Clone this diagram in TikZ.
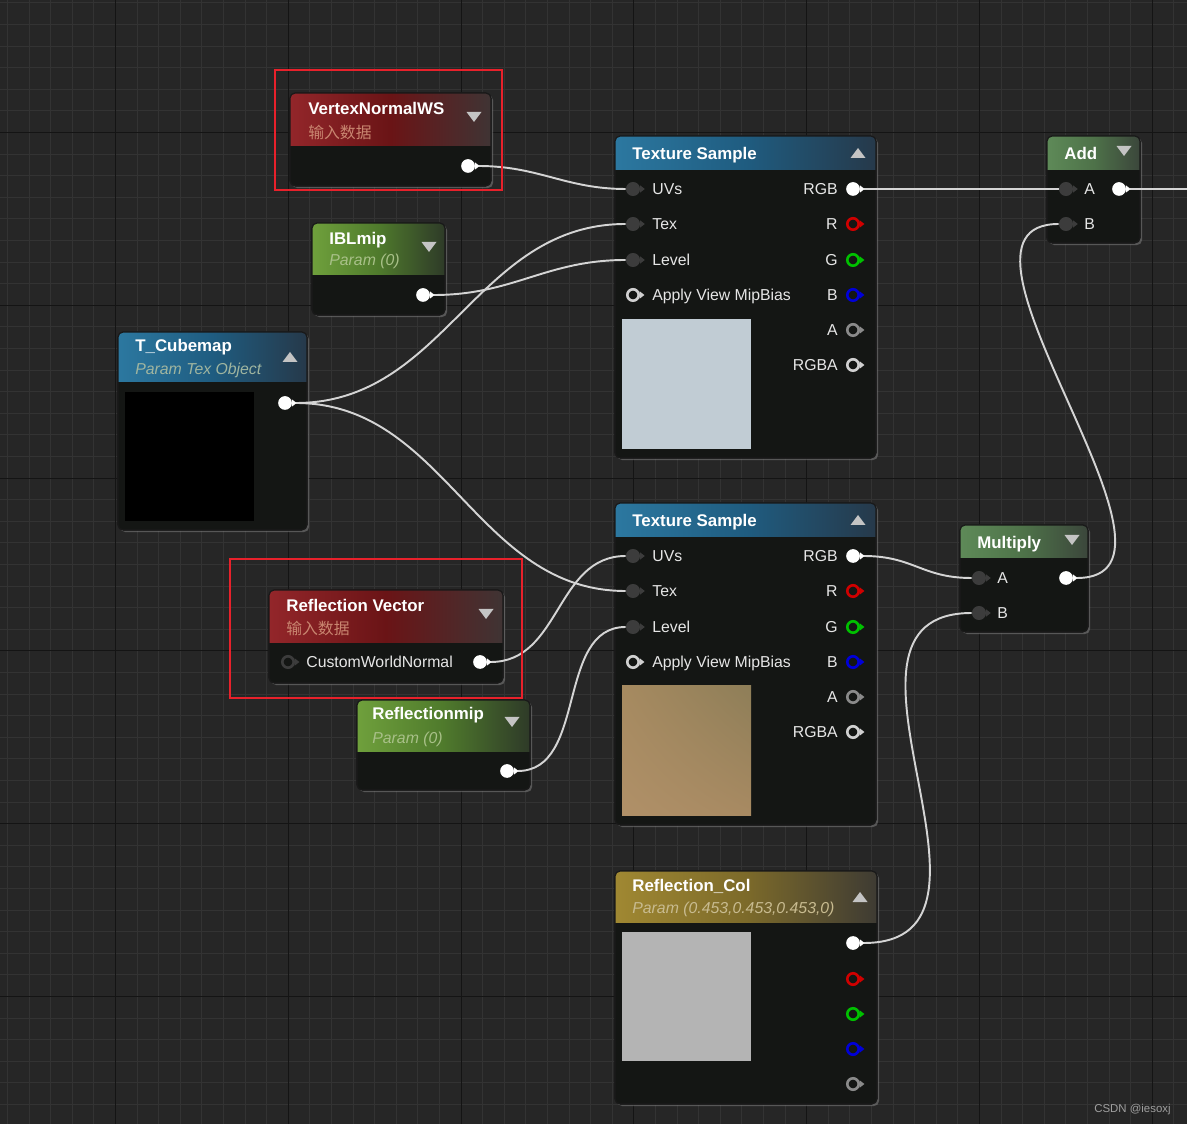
\documentclass[tikz,border=0pt]{standalone}
\usepackage{fontspec}
\setmainfont{Liberation Sans}
\newfontfamily\cjk{Noto Sans CJK SC}
\usetikzlibrary{fit,shadows,shadings}
\tikzset{>=stealth}

\definecolor{bgc}{HTML}{262626}
\definecolor{finec}{HTML}{333333}
\definecolor{majorc}{HTML}{141414}
\definecolor{nodebg}{HTML}{141614}
\definecolor{wirec}{HTML}{D4D4D4}
\definecolor{labelc}{HTML}{E6E6E6}
\definecolor{sockgray}{HTML}{3C3C3C}
\definecolor{chevc}{HTML}{C4C4C4}
\definecolor{hlred}{HTML}{E8212B}
\definecolor{pinred}{HTML}{D00000}
\definecolor{pingreen}{HTML}{00C000}
\definecolor{pinblue}{HTML}{0000D8}
\definecolor{pingray}{HTML}{8A8A8A}
\definecolor{lightring}{HTML}{D0D0D0}
\definecolor{cjkred}{HTML}{C98670}
\definecolor{paramgreen}{HTML}{A8C088}
\definecolor{paramblue}{HTML}{9FB5A0}
\definecolor{paramgold}{HTML}{C8BB90}
\definecolor{redA}{HTML}{93262A}
\definecolor{redB}{HTML}{6A1416}
\definecolor{redC}{HTML}{3F3434}
\definecolor{grnA}{HTML}{6FA03C}
\definecolor{grnB}{HTML}{4F7A2C}
\definecolor{grnC}{HTML}{2E3A28}
\definecolor{bluA}{HTML}{2C78A0}
\definecolor{bluB}{HTML}{1F5C80}
\definecolor{bluC}{HTML}{26394A}
\definecolor{mthA}{HTML}{5E8A58}
\definecolor{mthB}{HTML}{4E7249}
\definecolor{mthC}{HTML}{3B463B}
\definecolor{gldA}{HTML}{A08832}
\definecolor{gldB}{HTML}{7C6A2A}
\definecolor{gldC}{HTML}{3E3B33}
\definecolor{tanUL}{HTML}{A68A60}
\definecolor{tanUR}{HTML}{8E7E58}
\definecolor{tanLL}{HTML}{B09068}
\definecolor{tanLR}{HTML}{A88A62}
\definecolor{skyprev}{HTML}{C1CCD4}
\definecolor{grayprev}{HTML}{B4B4B4}

\pgfdeclarelayer{bg}
\pgfdeclarelayer{mid}
\pgfsetlayers{bg,mid,main}

\tikzset{
  finegrid/.style={finec, line width=0.55pt},
  majorgrid/.style={majorc, line width=0.6pt},
  uebody/.style={draw=black!90, fill=nodebg, rounded corners=3pt, inner sep=0pt, line width=0.6pt,
    drop shadow={shadow xshift=1.2pt, shadow yshift=-1.2pt, opacity=0.55}},
  hdred/.style={left color=redA, right color=redC, middle color=redB},
  hdgreen/.style={left color=grnA, right color=grnC, middle color=grnB},
  hdblue/.style={left color=bluA, right color=bluC, middle color=bluB},
  hdmath/.style={left color=mthA, right color=mthC, middle color=mthB},
  hdgold/.style={left color=gldA, right color=gldC, middle color=gldB},
  wire/.style={wirec, line width=1.1pt},
  title/.style={anchor=base west, inner sep=0pt, text=white, font=\fontsize{9.6}{11}\selectfont\bfseries},
  sub/.style={anchor=base west, inner sep=0pt, font=\fontsize{9}{11}\selectfont\itshape},
  cjksub/.style={anchor=base west, inner sep=0pt, text=cjkred, font=\fontsize{9}{11}\selectfont\cjk},
  lbl/.style={anchor=base west, inner sep=0pt, text=labelc, font=\fontsize{9}{11}\selectfont},
  rlbl/.style={lbl, anchor=base east},
  outsock/.style={circle, fill=white, inner sep=0pt, minimum size=7.8pt},
  insock/.style={circle, fill=sockgray, inner sep=0pt, minimum size=8pt},
  ringsock/.style={circle, draw=#1, fill=nodebg, line width=1.5pt, inner sep=0pt, minimum size=6.5pt},
  highlight/.style={hlred, line width=1.5pt},
  chev/.style={fill=chevc}
}

% node body with shaded header: name, x1, y1, x2, y2, header bottom, header style
\newcommand\uenode[7]{%
  \begin{pgfonlayer}{bg}
    \node[uebody, fit={(#2,#3) (#4,#5)}] (#1) {};
    \begin{scope}
      \clip[rounded corners=3pt] (#2,#3) rectangle (#4,#5);
      \shade[#7] (#2,#3) rectangle (#4,#6);
    \end{scope}
    \draw[black!90, line width=0.6pt, rounded corners=3pt] (#2,#3) rectangle (#4,#5);
  \end{pgfonlayer}
}
% socket: name, x, y, style, arrow colour
\newcommand\sock[5]{%
  \node[#4] (#1) at (#2,#3) {};
  \fill[#5] ([xshift=-0.2pt,yshift=2.1pt]#1.east) -- ++(2.7pt,-2.1pt) -- ++(-2.7pt,-2.1pt) -- cycle;
}
\newcommand\downtri[2]{\fill[chev] (#1-7.5,#2-5) -- (#1+7.5,#2-5) -- (#1,#2+5) -- cycle;}
\newcommand\uptri[2]{\fill[chev] (#1-7.5,#2+5) -- (#1+7.5,#2+5) -- (#1,#2-5) -- cycle;}

\begin{document}
\begin{tikzpicture}[x=0.02cm, y=-0.02cm]
  \useasboundingbox (0,0) rectangle (1187,1124);
  \begin{pgfonlayer}{bg}
    \fill[bgc] (0,0) rectangle (1187,1124);
    \foreach \i in {0,...,54} \draw[finegrid] ({7.5+21.6*\i},0) -- ++(0,1124);
    \foreach \i in {0,...,51} \draw[finegrid] (0,{2.9+21.6*\i}) -- ++(1187,0);
    \foreach \i in {0,...,6} \draw[majorgrid] ({115.5+172.8*\i},0) -- ++(0,1124);
    \foreach \i in {0,...,5} \draw[majorgrid] (0,{132.5+172.8*\i}) -- ++(1187,0);
  \end{pgfonlayer}

  % VertexNormalWS
  \uenode{vnws}{290}{93}{491}{186}{146}{hdred}
  \node[title] (vnws-t) at (308,115) {VertexNormalWS};
  \node[cjksub] (vnws-s) at (308,138.5) {输入数据};
  \downtri{474}{117}
  \sock{vnwsout}{468}{166}{outsock}{white}

  % IBLmip
  \uenode{ibl}{312}{223}{445}{315}{275}{hdgreen}
  \node[title] (ibl-t) at (329,244.5) {IBLmip};
  \node[sub, text=paramgreen] (ibl-s) at (329,266) {Param (0)};
  \downtri{429}{247}
  \sock{iblout}{423}{295}{outsock}{white}

  % T_Cubemap
  \uenode{cube}{118}{332}{307}{530}{382}{hdblue}
  \node[title] (cube-t) at (135,352) {T\_Cubemap};
  \node[sub, text=paramblue] (cube-s) at (135,375) {Param Tex Object};
  \uptri{290}{357}
  \fill[black] (125,392) rectangle (254,521);
  \sock{cubeout}{285}{403}{outsock}{white}

  % Texture Sample x2
  \foreach \n/\o in {ta/0, tb/367} {
    \uenode{\n}{615}{136+\o}{876}{458+\o}{170+\o}{hdblue}
    \node[title] (\n-t) at (632,159.5+\o) {Texture Sample};
    \uptri{858}{153+\o}
    \sock{\n uv}{633}{189+\o}{insock}{sockgray}
    \sock{\n tex}{633}{224+\o}{insock}{sockgray}
    \sock{\n level}{633}{260+\o}{insock}{sockgray}
    \sock{\n mip}{633}{295+\o}{ringsock=lightring}{lightring}
    \foreach \lab/\y in {UVs/189, Tex/224, Level/260, Apply View MipBias/295}
      \node[lbl] (\n-l\y) at (652,\y+6+\o) {\lab};
    \sock{\n rgb}{853}{189+\o}{outsock}{white}
    \sock{\n r}{853}{224+\o}{ringsock=pinred}{pinred}
    \sock{\n g}{853}{260+\o}{ringsock=pingreen}{pingreen}
    \sock{\n b}{853}{295+\o}{ringsock=pinblue}{pinblue}
    \sock{\n a}{853}{330+\o}{ringsock=pingray}{pingray}
    \sock{\n rgba}{853}{365+\o}{ringsock=lightring}{lightring}
    \foreach \lab/\y in {RGB/189, R/224, G/260, B/295, A/330, RGBA/365}
      \node[rlbl] (\n-r\y) at (838,\y+6+\o) {\lab};
  }
  \fill[skyprev] (622,319) rectangle (751,449);
  \shade[upper left=tanUL, upper right=tanUR, lower left=tanLL, lower right=tanLR] (622,686) rectangle (751,816);

  % Add
  \uenode{add}{1047}{136}{1140}{243}{170}{hdmath}
  \node[title] (add-t) at (1064,160) {Add};
  \downtri{1124}{151}
  \sock{addA}{1066}{189}{insock}{sockgray}
  \sock{addB}{1066}{224}{insock}{sockgray}
  \node[lbl] (add-la) at (1084,195) {A};
  \node[lbl] (add-lb) at (1084,230) {B};
  \sock{addout}{1119}{189}{outsock}{white}
  \coordinate (offright) at (1192,189);

  % Multiply
  \uenode{mult}{960}{525}{1088}{632}{558}{hdmath}
  \node[title] (mult-t) at (977,548.3) {Multiply};
  \downtri{1072}{540}
  \sock{multA}{979}{578}{insock}{sockgray}
  \sock{multB}{979}{613}{insock}{sockgray}
  \node[lbl] (mult-la) at (997,584) {A};
  \node[lbl] (mult-lb) at (997,619) {B};
  \sock{multout}{1066}{578}{outsock}{white}

  % Reflection Vector
  \uenode{rvec}{269}{590}{503}{683}{643}{hdred}
  \node[title] (rvec-t) at (286,611.7) {Reflection Vector};
  \node[cjksub] (rvec-s) at (286,634.5) {输入数据};
  \downtri{486}{614}
  \sock{rvecin}{288}{662}{ringsock=sockgray}{sockgray}
  \node[lbl] (rvec-l) at (306,668) {CustomWorldNormal};
  \sock{rvecout}{480}{662}{outsock}{white}

  % Reflectionmip
  \uenode{rmip}{357}{700}{530}{790}{752}{hdgreen}
  \node[title] (rmip-t) at (372,720) {Reflectionmip};
  \node[sub, text=paramgreen] (rmip-s) at (372,743.3) {Param (0)};
  \downtri{512}{722}
  \sock{rmipout}{507}{771}{outsock}{white}

  % Reflection_Col
  \uenode{rcol}{615}{871}{877}{1104}{922}{hdgold}
  \node[title] (rcol-t) at (632,891.7) {Reflection\_Col};
  \node[sub, text=paramgold] (rcol-s) at (632,913.3) {Param (0.453,0.453,0.453,0)};
  \uptri{860}{897}
  \fill[grayprev] (622,932) rectangle (751,1061);
  \sock{rcolout}{853}{943}{outsock}{white}
  \sock{rcolr}{853}{979}{ringsock=pinred}{pinred}
  \sock{rcolg}{853}{1014}{ringsock=pingreen}{pingreen}
  \sock{rcolb}{853}{1049}{ringsock=pinblue}{pinblue}
  \sock{rcola}{853}{1084}{ringsock=pingray}{pingray}

  % wires
  \begin{pgfonlayer}{mid}
    \draw[wire] ([xshift=2pt]vnwsout.east) .. controls +(60,0) and +(-60,0) .. (tauv.west);
    \draw[wire] ([xshift=2pt]iblout.east) .. controls +(80,0) and +(-80,0) .. (talevel.west);
    \draw[wire] ([xshift=2pt]cubeout.east) .. controls +(150,0) and +(-150,0) .. (tatex.west);
    \draw[wire] ([xshift=2pt]cubeout.east) .. controls +(150,0) and +(-150,0) .. (tbtex.west);
    \draw[wire] ([xshift=2pt]rvecout.east) .. controls +(70,0) and +(-70,0) .. (tbuv.west);
    \draw[wire] ([xshift=2pt]rmipout.east) .. controls +(70,0) and +(-70,0) .. (tblevel.west);
    \draw[wire] ([xshift=2pt]targb.east) -- (addA.west);
    \draw[wire] ([xshift=2pt]tbrgb.east) .. controls +(50,0) and +(-50,0) .. (multA.west);
    \draw[wire] ([xshift=2pt]multout.east) .. controls +(140,0) and +(-140,0) .. (addB.west);
    \draw[wire] ([xshift=2pt]rcolout.east) .. controls +(170,0) and +(-170,0) .. (multB.west);
    \draw[wire] ([xshift=2pt]addout.east) -- (offright);
  \end{pgfonlayer}

  \draw[highlight] (275,70) rectangle (502,190);
  \draw[highlight] (230,559) rectangle (522,698);
  \node[anchor=base east, inner sep=0pt, text=gray!75, font=\fontsize{6.5}{8}\selectfont] (mark) at (1171,1112) {CSDN @iesoxj};
\end{tikzpicture}
\end{document}
